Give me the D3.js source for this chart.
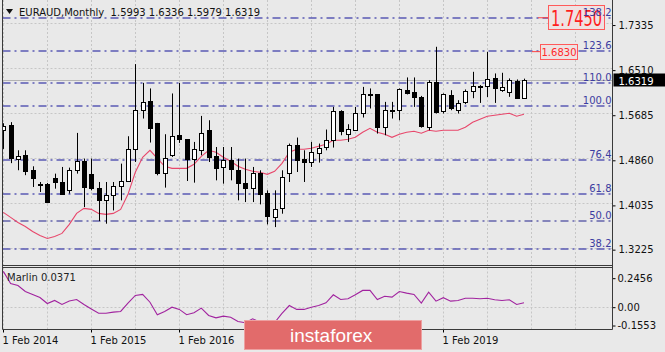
<!DOCTYPE html>
<html>
<head>
<meta charset="utf-8">
<script src="https://cdn.jsdelivr.net/npm/d3@7"></script>
<style>
    body { margin: 0; background: #e9e9e9; }
    svg { display: block; }
    text { font-family: "DejaVu Sans", sans-serif; font-size: 10px; }
</style>
</head>
<body>
<svg id="chart" width="665" height="352"></svg>
<script>
// EURAUD monthly bars, Feb 2014 .. Jan 2020
var opens = [1.5392, 1.5484, 1.4860, 1.4935, 1.4659, 1.4400, 1.4415, 1.4525, 1.4445, 1.4292, 1.4659, 1.4824,
    1.4598, 1.4335, 1.4109, 1.4200, 1.4372, 1.4463, 1.5057, 1.5771, 1.5923, 1.5526, 1.4610, 1.4932,
    1.5300, 1.5227, 1.4860, 1.5045, 1.5404, 1.4912, 1.4720, 1.4842, 1.4672, 1.4426, 1.4342, 1.4610,
    1.4243, 1.3816, 1.3975, 1.4610, 1.5130, 1.4860, 1.4811, 1.4983, 1.5099, 1.5208, 1.5740, 1.5331,
    1.5405, 1.5709, 1.6052, 1.6052, 1.5453, 1.5765, 1.5758, 1.6125, 1.6083, 1.6003, 1.5453, 1.6277,
    1.5727, 1.6034, 1.5771, 1.5911, 1.6113, 1.6200, 1.6199, 1.6340, 1.6138, 1.6090, 1.6296, 1.5993];
var highs = [1.5520, 1.5540, 1.5025, 1.5025, 1.4732, 1.4445, 1.4427, 1.4598, 1.4720, 1.4708, 1.5343, 1.4873,
    1.4873, 1.4445, 1.4445, 1.4445, 1.4781, 1.5282, 1.6602, 1.6259, 1.6157, 1.5526, 1.5319, 1.6065,
    1.6259, 1.5227, 1.5178, 1.5654, 1.5575, 1.5085, 1.5085, 1.5085, 1.4873, 1.4873, 1.4720, 1.4659,
    1.4292, 1.4292, 1.4659, 1.5148, 1.5258, 1.5025, 1.5178, 1.5148, 1.5405, 1.5819, 1.5758, 1.5502,
    1.5819, 1.6185, 1.6157, 1.6052, 1.5911, 1.5911, 1.6157, 1.6358, 1.6358, 1.6020, 1.6308, 1.6919,
    1.6065, 1.6125, 1.5942, 1.6138, 1.6461, 1.6217, 1.6827, 1.6431, 1.6443, 1.6340, 1.6321, 1.6336];
var lows = [1.5050, 1.4790, 1.4660, 1.4570, 1.4353, 1.4262, 1.4060, 1.4323, 1.4218, 1.4233, 1.4598, 1.3986,
    1.4292, 1.3730, 1.3682, 1.3925, 1.4109, 1.4445, 1.4811, 1.5606, 1.5167, 1.4568, 1.4342, 1.4903,
    1.5160, 1.4463, 1.4433, 1.4934, 1.4811, 1.4475, 1.4414, 1.4475, 1.4109, 1.4078, 1.4078, 1.4035,
    1.3669, 1.3620, 1.3865, 1.4445, 1.4628, 1.4445, 1.4720, 1.4800, 1.5025, 1.5075, 1.5300, 1.5178,
    1.5392, 1.5625, 1.5790, 1.5331, 1.5300, 1.5606, 1.5575, 1.6047, 1.5819, 1.5440, 1.5392, 1.5698,
    1.5698, 1.5758, 1.5698, 1.5869, 1.5978, 1.5892, 1.6000, 1.5892, 1.6094, 1.6003, 1.5973, 1.5979];
var closes = [1.5470, 1.4880, 1.4920, 1.4640, 1.4505, 1.4410, 1.4078, 1.4445, 1.4233, 1.4659, 1.4824, 1.4353,
    1.4335, 1.4109, 1.4200, 1.4372, 1.4463, 1.5057, 1.5771, 1.5911, 1.5423, 1.4610, 1.4891, 1.5282,
    1.5222, 1.4860, 1.5043, 1.5349, 1.4903, 1.4690, 1.4852, 1.4672, 1.4426, 1.4342, 1.4610, 1.4232,
    1.3816, 1.3957, 1.4536, 1.5130, 1.4855, 1.4800, 1.4994, 1.5075, 1.5221, 1.5740, 1.5379, 1.5423,
    1.5709, 1.6052, 1.6045, 1.5441, 1.5771, 1.5758, 1.6138, 1.6065, 1.5992, 1.5465, 1.6277, 1.5727,
    1.6046, 1.5790, 1.5892, 1.6107, 1.6204, 1.6195, 1.6321, 1.6157, 1.6185, 1.6308, 1.5984, 1.6319];

// moving average drawn over the bars
var maValues = [1.3889, 1.3797, 1.3705, 1.3632, 1.3540, 1.3467, 1.3412, 1.3449, 1.3504, 1.3669, 1.3870, 1.3962,
    1.3944, 1.3870, 1.3852, 1.3870, 1.3944, 1.4219, 1.4622, 1.4897, 1.5025, 1.4879, 1.4732, 1.4695,
    1.4695, 1.4695, 1.4769, 1.4915, 1.5025, 1.4988, 1.4897, 1.4824, 1.4732, 1.4677, 1.4640, 1.4622,
    1.4585, 1.4640, 1.4787, 1.4988, 1.5043, 1.5043, 1.5062, 1.5098, 1.5135, 1.5208, 1.5208, 1.5227,
    1.5263, 1.5355, 1.5428, 1.5355, 1.5318, 1.5263, 1.5318, 1.5355, 1.5373, 1.5337, 1.5392, 1.5373,
    1.5392, 1.5392, 1.5392, 1.5447, 1.5538, 1.5593, 1.5648, 1.5667, 1.5685, 1.5703, 1.5648, 1.5685];

// Marlin oscillator (lower panel)
var marlinValues = [0.303, 0.201, 0.184, 0.133, 0.108, 0.082, 0.031, 0.057, 0.023, 0.053, 0.065, 0.023,
    -0.015, -0.051, -0.051, -0.042, -0.036, 0.034, 0.099, 0.108, 0.042, -0.064, -0.036, 0.000,
    -0.019, -0.064, -0.047, -0.008, -0.070, -0.090, -0.076, -0.085, -0.121, -0.132, -0.098, -0.127,
    -0.160, -0.130, -0.053, 0.014, -0.019, -0.019, 0.000, 0.014, 0.037, 0.105, 0.065, 0.071,
    0.105, 0.142, 0.142, 0.065, 0.093, 0.085, 0.133, 0.119, 0.108, 0.034, 0.127, 0.051,
    0.080, 0.051, 0.057, 0.076, 0.076, 0.071, 0.076, 0.063, 0.057, 0.063, 0.023, 0.0371];

var priceTicks = [1.3225, 1.4035, 1.4860, 1.5685, 1.6510, 1.7335];
var marlinTicks = [-0.1553, 0, 0.2456];
// Feb 2017 / Feb 2018 labels sit under the logo, so only these show
var yearTicks = [0, 12, 24, 60];
var fibLevels = [38.2, 50.0, 61.8, 76.4, 100.0, 110.0, 123.6, 138.2];
var fibLow = 1.1610, fibHigh = 1.5838;
var markedPrices = [1.6830, 1.7450];
var months = d3.timeMonth.range(new Date(2014, 1, 1), new Date(2020, 1, 1));

var plotLeft = 2.5, plotRight = 612.5;
var mainBottom = 265.5, indTop = 267.5, indBottom = 329.5;

var svg = d3.select("#chart");
var fmt4 = function(v) { return v.toFixed(4); };

var x = d3.scaleLinear().domain([0, 83]).range([3.3, 612]);
var y = d3.scaleLinear().domain([1.2917, 1.7775]).range([mainBottom, 0]);
var ym = d3.scaleLinear().domain([-0.189, 0.336]).range([indBottom, indTop]);

var bars = months.map(function(m, i) {
    return { date: m, i: i, o: opens[i], h: highs[i], l: lows[i], c: closes[i] };
});

var defs = svg.append("defs");
defs.append("clipPath").attr("id", "clipMain").append("rect")
    .attr("x", plotLeft).attr("y", 0)
    .attr("width", plotRight - plotLeft).attr("height", mainBottom);
defs.append("clipPath").attr("id", "clipInd").append("rect")
    .attr("x", plotLeft).attr("y", indTop)
    .attr("width", plotRight - plotLeft).attr("height", indBottom - indTop);

var px = function(v) { return Math.round(v) + 0.5; };

// grid
var renderGrid = function() {
    var g = svg.append("g").attr("stroke", "#c6c6c6").attr("stroke-dasharray", "2,2");
    var cols = d3.range(0, 84, 6);
    g.selectAll(".vgrid-main").data(cols).enter().append("line")
        .attr("x1", function(d) { return px(x(d)); })
        .attr("x2", function(d) { return px(x(d)); })
        .attr("y1", 0).attr("y2", mainBottom);
    g.selectAll(".vgrid-ind").data(cols).enter().append("line")
        .attr("x1", function(d) { return px(x(d)); })
        .attr("x2", function(d) { return px(x(d)); })
        .attr("y1", indTop).attr("y2", indBottom);
    g.selectAll(".hgrid").data(priceTicks).enter().append("line")
        .attr("x1", plotLeft).attr("x2", plotRight)
        .attr("y1", function(d) { return px(y(d)) - 1; })
        .attr("y2", function(d) { return px(y(d)) - 1; });
    g.append("line")
        .attr("x1", plotLeft).attr("x2", plotRight)
        .attr("y1", px(ym(0))).attr("y2", px(ym(0)));
};

var renderFibo = function() {
    var fibs = fibLevels.map(function(l) {
        return { level: l, price: fibLow + (fibHigh - fibLow) * l / 100 };
    });
    var g = svg.append("g").attr("clip-path", "url(#clipMain)");
    g.selectAll(".fib").data(fibs).enter().append("line")
        .attr("x1", plotLeft).attr("x2", plotRight)
        .attr("y1", function(d) { return Math.round(y(d.price)); })
        .attr("y2", function(d) { return Math.round(y(d.price)); })
        .attr("stroke", function(d) { return d.level === 50 ? "#22228e" : "#5a5ab4"; })
        .attr("stroke-width", function(d) { return d.level === 50 ? 1.2 : 1.6; })
        .attr("stroke-dasharray", "8,4,2,4");
    return fibs;
};

var renderFiboLabels = function(fibs) {
    svg.append("g").selectAll(".fiblabel").data(fibs).enter().append("text")
        .attr("x", plotRight - 1)
        .attr("y", function(d) { return Math.round(y(d.price)) - 2; })
        .attr("text-anchor", "end")
        .attr("fill", "#3c3ca0")
        .text(function(d) { return d.level.toFixed(1); });
};

var renderCandles = function() {
    var g = svg.append("g").attr("clip-path", "url(#clipMain)");
    var c = g.selectAll(".bar").data(bars).enter().append("g").attr("class", "bar");
    c.append("line")
        .attr("x1", function(d) { return px(x(d.i)); })
        .attr("x2", function(d) { return px(x(d.i)); })
        .attr("y1", function(d) { return y(d.h); })
        .attr("y2", function(d) { return y(d.l); })
        .attr("stroke", "#000");
    c.append("rect")
        .attr("x", function(d) { return px(x(d.i)) - 2; })
        .attr("width", 4)
        .attr("y", function(d) { return Math.round(y(Math.max(d.o, d.c))) + 0.5; })
        .attr("height", function(d) {
            return Math.max(1, Math.round(Math.abs(y(d.o) - y(d.c))));
        })
        .attr("fill", function(d) { return d.c >= d.o ? "#ffffff" : "#000000"; })
        .attr("stroke", "#000");
};

var renderMa = function() {
    var line = d3.line()
        .x(function(d, i) { return x(i); })
        .y(function(d) { return y(d); });
    svg.append("path").datum(maValues)
        .attr("clip-path", "url(#clipMain)")
        .attr("d", line)
        .attr("fill", "none")
        .attr("stroke", "#e8476b")
        .attr("stroke-width", 1.1);
};

var renderMarked = function() {
    var g = svg.append("g");
    // 1.6830 small label
    var ySmall = y(markedPrices[0]);
    g.append("line").attr("x1", 532).attr("x2", 540).attr("y1", ySmall).attr("y2", ySmall)
        .attr("stroke", "#ff4040");
    g.append("rect").attr("x", 540.5).attr("y", Math.round(ySmall) - 7.5)
        .attr("width", 37).attr("height", 15)
        .attr("fill", "#eee2e2").attr("stroke", "#ff5a5a");
    g.append("text").attr("x", 559).attr("y", Math.round(ySmall) + 4)
        .attr("text-anchor", "middle").attr("fill", "#ff2a2a")
        .text(fmt4(markedPrices[0]));
    // 1.7450 big label
    var yBig = y(markedPrices[1]);
    g.append("line").attr("x1", 538).attr("x2", 548).attr("y1", yBig).attr("y2", yBig)
        .attr("stroke", "#ff4040");
    g.append("rect").attr("x", 548.5).attr("y", Math.round(yBig) - 12.5)
        .attr("width", 56).attr("height", 24)
        .attr("fill", "#eee2e2").attr("stroke", "#ff5a5a");
    g.append("text").attr("x", 551).attr("y", Math.round(yBig) + 8)
        .attr("fill", "#ff1e1e")
        .style("font-size", "21px")
        .attr("textLength", 51).attr("lengthAdjust", "spacingAndGlyphs")
        .text(fmt4(markedPrices[1]));
};

var renderAxes = function() {
    var priceAxis = d3.axisRight(y).tickValues(priceTicks).tickSize(3).tickPadding(3)
        .tickFormat(fmt4);
    svg.append("g").attr("transform", "translate(" + plotRight + ",1)")
        .attr("font-family", null).attr("font-size", null)
        .call(priceAxis)
        .call(function(g) { g.select(".domain").remove(); })
        .call(function(g) { g.selectAll("text").attr("fill", "#111"); });

    var marlinAxis = d3.axisRight(ym).tickValues(marlinTicks).tickSize(3).tickPadding(2)
        .tickFormat(function(d) { return d === 0 ? "0.00" : d.toFixed(4); });
    svg.append("g").attr("transform", "translate(" + plotRight + ",0)")
        .attr("font-family", null).attr("font-size", null)
        .call(marlinAxis)
        .call(function(g) { g.select(".domain").remove(); })
        .call(function(g) { g.selectAll("text").attr("fill", "#111"); });

    var dateFmt = d3.timeFormat("%-d %b %Y");
    var timeAxis = d3.axisBottom(x).tickValues(yearTicks).tickSize(3).tickPadding(4)
        .tickFormat(function(i) { return dateFmt(months[i]); });
    svg.append("g").attr("transform", "translate(0," + indBottom + ")")
        .attr("font-family", null).attr("font-size", null)
        .call(timeAxis)
        .call(function(g) { g.select(".domain").remove(); })
        .call(function(g) {
            g.selectAll(".tick").attr("transform", function(d) {
                return "translate(" + px(x(d)) + ",0)";
            });
            g.selectAll("text").attr("text-anchor", "start").attr("x", -1).attr("fill", "#111");
        });

    // frames
    var f = svg.append("g").attr("stroke", "#3a3a3a").attr("fill", "none");
    f.append("line").attr("x1", plotLeft).attr("x2", plotLeft).attr("y1", 0).attr("y2", indBottom);
    f.append("line").attr("x1", plotRight).attr("x2", plotRight).attr("y1", 0).attr("y2", indBottom);
    f.append("line").attr("x1", plotLeft).attr("x2", plotRight).attr("y1", mainBottom).attr("y2", mainBottom);
    f.append("line").attr("x1", plotLeft).attr("x2", plotRight).attr("y1", indTop).attr("y2", indTop);
    f.append("line").attr("x1", plotLeft).attr("x2", plotRight).attr("y1", indBottom).attr("y2", indBottom);
};

var renderLastPrice = function() {
    var last = closes[closes.length - 1];
    var yl = px(y(last));
    svg.append("line").attr("x1", plotLeft).attr("x2", plotRight)
        .attr("y1", yl).attr("y2", yl)
        .attr("stroke", "#b4b4b4");
    return yl;
};

var renderLastPriceTag = function(yl) {
    var last = closes[closes.length - 1];
    svg.append("rect").attr("x", plotRight + 1).attr("y", yl - 7)
        .attr("width", 665 - plotRight).attr("height", 13).attr("fill", "#000");
    svg.append("text").attr("x", plotRight + 6).attr("y", yl + 4)
        .attr("fill", "#fff").text(fmt4(last));
};

var renderMarlin = function() {
    var line = d3.line()
        .x(function(d, i) { return x(i); })
        .y(function(d) { return ym(d); });
    svg.append("path").datum(marlinValues)
        .attr("clip-path", "url(#clipInd)")
        .attr("d", line)
        .attr("fill", "none")
        .attr("stroke", "#a1239f")
        .attr("stroke-width", 1.1);
    svg.append("text").attr("x", 7).attr("y", 281).attr("fill", "#222")
        .text("Marlin " + marlinValues[marlinValues.length - 1].toFixed(4));
};

var renderTitle = function() {
    var n = bars.length - 1;
    svg.append("path").attr("d", "M6,9 L13,9 L9.5,14 Z").attr("fill", "#111");
    svg.append("text").attr("x", 19).attr("y", 16).attr("fill", "#111")
        .style("white-space", "pre")
        .text("EURAUD,Monthly  " + [opens[n], highs[n], lows[n], closes[n]].map(fmt4).join(" "));
};

var renderLogo = function() {
    var g = svg.append("g");
    g.append("rect").attr("x", 244.5).attr("y", 320.5).attr("width", 177).attr("height", 29)
        .attr("fill", "#e26b6b").attr("stroke", "#eda0a0");
    g.append("text").attr("x", 290).attr("y", 342)
        .attr("fill", "#ffffff")
        .style("font-family", "'Liberation Sans', Arial, sans-serif")
        .style("font-size", "19px")
        .text("instaforex");
};

renderGrid();
var fibs = renderFibo();
var lastY = renderLastPrice();
renderMa();
renderCandles();
renderMarked();
renderFiboLabels(fibs);
renderMarlin();
renderAxes();
renderLastPriceTag(lastY);
renderTitle();
renderLogo();
</script>
</body>
</html>
